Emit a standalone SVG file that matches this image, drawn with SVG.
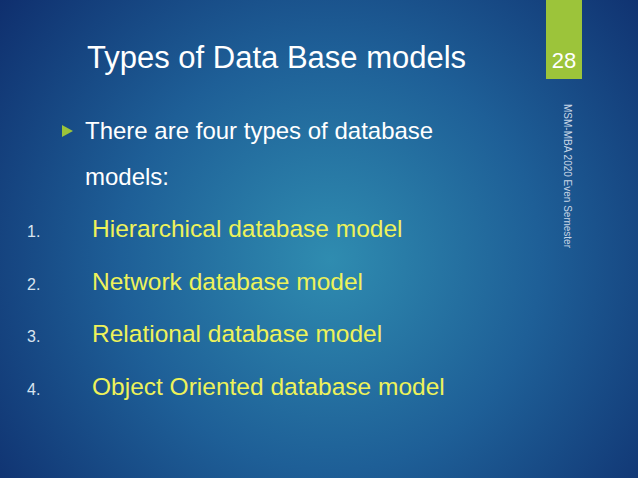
<svg xmlns="http://www.w3.org/2000/svg" width="638" height="478" viewBox="0 0 638 478">
<defs>
<radialGradient id="bg" cx="330" cy="260" r="420" gradientUnits="userSpaceOnUse">
<stop offset="0" stop-color="#2f8cb0"/>
<stop offset="0.5" stop-color="#1e5f97"/>
<stop offset="1" stop-color="#0f2f6e"/>
</radialGradient>
<style>
text{font-family:"Liberation Sans",Arial,sans-serif}
.w{fill:#ffffff;font-size:24px}
.y{fill:#eef25a;font-size:24.5px}
.n{fill:#d8e4ef;font-size:16px}
</style>
</defs>
<rect width="638" height="478" fill="url(#bg)"/>
<g id="title"><text x="87" y="68" fill="#fff" font-size="31">Types of Data Base models</text></g>
<g id="pagenum"><rect x="546" y="0" width="36" height="79" fill="#9cc43a"/><text x="564" y="68" fill="#fff" font-size="22" text-anchor="middle">28</text></g>
<g id="footer"><text transform="translate(564,176) rotate(90)" fill="#c8d6e6" font-size="10" text-anchor="middle">MSM-MBA 2020 Even Semester</text></g>
<g id="intro"><polygon points="62,125 73,131 62,137" fill="#9cc43a"/>
<text class="w" x="85" y="139">There are four types of database</text>
<text class="w" x="85" y="185">models:</text></g>
<g id="i1"><text class="n" x="27" y="237">1.</text><text class="y" x="92" y="237">Hierarchical database model</text></g>
<g id="i2"><text class="n" x="27" y="290">2.</text><text class="y" x="92" y="290">Network database model</text></g>
<g id="i3"><text class="n" x="27" y="342">3.</text><text class="y" x="92" y="342">Relational database model</text></g>
<g id="i4"><text class="n" x="27" y="395">4.</text><text class="y" x="92" y="395">Object Oriented database model</text></g>
</svg>
